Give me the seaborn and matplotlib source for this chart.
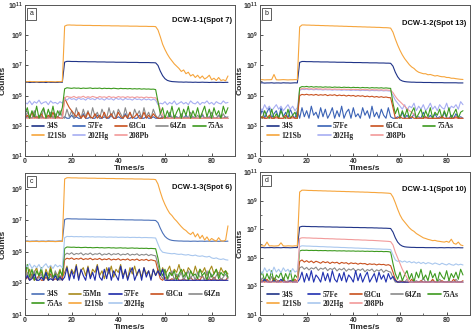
import numpy as np
import pandas as pd
import matplotlib
matplotlib.use("Agg")
import matplotlib.pyplot as plt
from matplotlib.lines import Line2D
import seaborn as sns

# time axis (s), one reading per second
times = list(range(88))

# ---------------- Panel a : DCW-1-1 (Spot 7)  values are log10(counts) ----------------
a_34S = ([5.88, 5.89, 5.87, 5.88, 5.88, 5.89, 5.87, 5.88, 5.88, 5.87,
          5.89, 5.88, 5.88, 5.87, 5.88, 5.89, 5.88] +
         [7.22, 7.27, 7.27, 7.26, 7.26, 7.26, 7.25, 7.25, 7.25, 7.25,
          7.24, 7.24, 7.24, 7.24, 7.23, 7.23, 7.23, 7.23, 7.22, 7.22,
          7.22, 7.22, 7.21, 7.21, 7.21, 7.21, 7.21, 7.20, 7.20, 7.20,
          7.20, 7.20, 7.19, 7.19, 7.19, 7.19, 7.19, 7.18, 7.18, 7.17] +
         [7.00, 6.62, 6.32, 6.12, 6.01, 5.96, 5.93, 5.92, 5.91, 5.90,
          5.90, 5.89, 5.90, 5.89, 5.89, 5.88, 5.89, 5.88, 5.88, 5.89,
          5.88, 5.88, 5.87, 5.88, 5.88, 5.87, 5.88, 5.88, 5.87, 5.88, 5.88])
a_121Sb = ([5.93, 5.92, 5.94, 5.92, 5.93, 5.91, 5.92, 5.93, 5.92, 5.94,
            5.92, 5.93, 5.92, 5.91, 5.93, 5.92, 5.93] +
           [9.60, 9.67, 9.68, 9.67, 9.67, 9.66, 9.66, 9.66, 9.65, 9.65,
            9.65, 9.65, 9.64, 9.64, 9.64, 9.64, 9.63, 9.63, 9.63, 9.63,
            9.62, 9.62, 9.62, 9.62, 9.61, 9.61, 9.61, 9.61, 9.60, 9.60,
            9.60, 9.60, 9.59, 9.59, 9.59, 9.59, 9.58, 9.58, 9.58, 9.57] +
           [9.35, 8.90, 8.40, 8.05, 7.75, 7.50, 7.30, 7.10, 6.95, 6.80,
            6.60, 6.70, 6.45, 6.55, 6.30, 6.40, 6.20, 6.35, 6.15, 6.30,
            6.10, 6.20, 6.35, 6.05, 6.15, 6.00, 6.20, 6.00, 6.05, 5.98, 6.30])
a_57Fe = ([3.5, 3.6, 3.5, 3.5, 3.7, 3.5, 3.5, 3.6, 3.5, 3.5,
           3.5, 3.7, 3.5, 3.5, 3.6, 3.5, 3.5] +
          [3.6, 3.5, 3.5, 3.7, 3.5, 3.6, 3.5, 3.5, 3.8, 3.5,
           3.5, 3.6, 3.5, 3.5, 3.7, 3.5, 3.5, 3.6, 3.5, 3.5,
           3.7, 3.5, 3.5, 3.6, 3.5, 3.5, 3.8, 3.5, 3.5, 3.6,
           3.5, 3.5, 3.7, 3.5, 3.5, 3.6, 3.5, 3.5, 3.6, 3.5] +
          [3.5, 3.5, 3.6, 3.5, 3.5, 3.7, 3.5, 3.5, 3.6, 3.5,
           3.5, 3.5, 3.7, 3.5, 3.5, 3.6, 3.5, 3.5, 3.5, 3.7,
           3.5, 3.5, 3.6, 3.5, 3.5, 3.5, 3.7, 3.5, 3.5, 3.6, 3.5])
a_63Cu = ([3.5, 3.7, 3.5, 3.9, 3.5, 3.6, 3.5, 3.8, 3.5, 3.5,
           3.7, 3.5, 3.9, 3.5, 3.6, 3.5, 3.5] +
          [4.85, 4.50, 4.20, 4.00, 3.8, 3.6, 3.9, 3.5, 3.7, 3.5,
           3.9, 3.6, 3.5, 3.8, 3.5, 3.7, 3.5, 3.9, 3.5, 3.6,
           3.8, 3.5, 3.5, 3.9, 3.6, 3.5, 3.7, 3.5, 3.9, 3.5,
           3.6, 3.8, 3.5, 3.5, 3.9, 3.5, 3.7, 3.5, 3.8, 3.6] +
          [3.5, 3.5, 3.5, 3.6, 3.5, 3.5, 3.5, 3.5, 3.5, 3.5,
           3.5, 3.5, 3.5, 3.5, 3.5, 3.5, 3.5, 3.5, 3.5, 3.5,
           3.5, 3.5, 3.5, 3.5, 3.5, 3.5, 3.5, 3.5, 3.5, 3.5, 3.5])
a_64Zn = ([3.5, 3.9, 3.6, 3.5, 4.0, 3.5, 3.7, 3.5, 4.1, 3.6,
           3.5, 3.9, 3.5, 3.8, 3.5, 4.0, 3.6] +
          [3.5, 4.1, 3.6, 4.0, 3.5, 4.2, 3.7, 3.5, 4.1, 3.6,
           4.0, 3.5, 4.2, 3.6, 3.9, 3.5, 4.1, 3.7, 3.5, 4.2,
           3.6, 4.0, 3.5, 4.1, 3.8, 3.5, 4.2, 3.6, 3.9, 3.5,
           4.1, 3.7, 4.0, 3.5, 4.2, 3.6, 3.9, 3.5, 4.1, 3.7] +
          [3.5, 3.8, 3.5, 3.6, 3.5, 3.9, 3.5, 3.7, 3.5, 3.5,
           3.8, 3.5, 3.6, 3.5, 3.9, 3.5, 3.5, 3.7, 3.5, 3.8,
           3.5, 3.6, 3.5, 3.9, 3.5, 3.5, 3.7, 3.5, 3.8, 3.5, 3.6])
a_75As = ([3.8, 4.2, 3.5, 4.0, 3.6, 4.3, 3.5, 3.9, 4.2, 3.5,
           4.1, 3.6, 4.3, 3.5, 4.0, 3.7, 4.2] +
          [5.45, 5.52, 5.50, 5.48, 5.51, 5.49, 5.50, 5.47, 5.50, 5.48,
           5.49, 5.51, 5.47, 5.49, 5.48, 5.50, 5.46, 5.49, 5.47, 5.48,
           5.46, 5.49, 5.47, 5.45, 5.48, 5.46, 5.47, 5.45, 5.47, 5.44,
           5.46, 5.44, 5.46, 5.43, 5.45, 5.43, 5.44, 5.42, 5.43, 5.40] +
          [4.6, 3.8, 4.2, 3.5, 4.0, 3.6, 4.3, 3.5, 3.9, 4.2,
           3.5, 4.1, 3.7, 4.3, 3.5, 4.0, 3.6, 4.2, 3.5, 3.9,
           4.3, 3.6, 4.1, 3.5, 4.2, 3.7, 4.0, 3.5, 4.3, 3.8, 4.2])
a_202Hg = ([4.55, 4.45, 4.65, 4.40, 4.60, 4.50, 4.70, 4.45, 4.55, 4.60,
            4.40, 4.65, 4.50, 4.55, 4.45, 4.60, 4.50] +
           [4.80, 4.70, 4.85, 4.75, 4.80, 4.70, 4.85, 4.75, 4.80, 4.70,
            4.85, 4.75, 4.80, 4.72, 4.85, 4.75, 4.80, 4.70, 4.82, 4.75,
            4.80, 4.70, 4.85, 4.75, 4.80, 4.70, 4.82, 4.75, 4.78, 4.70,
            4.82, 4.74, 4.78, 4.70, 4.80, 4.72, 4.78, 4.70, 4.76, 4.70] +
           [4.40, 4.50, 4.45, 4.60, 4.40, 4.55, 4.45, 4.65, 4.40, 4.50,
            4.60, 4.45, 4.55, 4.40, 4.65, 4.50, 4.45, 4.60, 4.40, 4.55,
            4.50, 4.65, 4.45, 4.55, 4.40, 4.60, 4.50, 4.45, 4.65, 4.50, 4.55])
a_208Pb = ([3.5, 3.5, 3.5, 3.5, 3.5, 3.5, 3.5, 3.5, 3.5, 3.5,
            3.5, 3.5, 3.5, 3.5, 3.5, 3.5, 3.5] +
           [4.85, 4.95, 4.90, 4.88, 4.95, 4.86, 4.92, 4.89, 4.96, 4.87,
            4.93, 4.88, 4.95, 4.90, 4.86, 4.94, 4.89, 4.92, 4.87, 4.95,
            4.88, 4.91, 4.86, 4.94, 4.89, 4.92, 4.87, 4.93, 4.88, 4.91,
            4.86, 4.92, 4.88, 4.90, 4.85, 4.91, 4.87, 4.89, 4.85, 4.86] +
           [4.60, 4.10, 3.70, 3.5, 3.5, 3.5, 3.5, 3.5, 3.5, 3.5,
            3.5, 3.5, 3.5, 3.5, 3.5, 3.5, 3.5, 3.5, 3.5, 3.5,
            3.5, 3.5, 3.5, 3.5, 3.5, 3.5, 3.5, 3.5, 3.5, 3.5, 3.5])

# ---------------- Panel b : DCW-1-2 (Spot 13) ----------------
b_34S = ([5.84, 5.85, 5.83, 5.84, 5.84, 5.85, 5.83, 5.84, 5.84, 5.83,
          5.85, 5.84, 5.84, 5.83, 5.84, 5.85, 5.84] +
         [7.20, 7.26, 7.26, 7.25, 7.25, 7.25, 7.24, 7.24, 7.24, 7.23,
          7.23, 7.23, 7.23, 7.22, 7.22, 7.22, 7.21, 7.21, 7.21, 7.21,
          7.20, 7.20, 7.20, 7.19, 7.19, 7.19, 7.19, 7.18, 7.18, 7.18,
          7.17, 7.17, 7.17, 7.17, 7.16, 7.16, 7.16, 7.15, 7.15, 7.14] +
         [6.95, 6.55, 6.25, 6.05, 5.97, 5.93, 5.91, 5.90, 5.89, 5.89,
          5.88, 5.88, 5.88, 5.87, 5.87, 5.87, 5.87, 5.86, 5.86, 5.86,
          5.86, 5.86, 5.85, 5.85, 5.85, 5.85, 5.85, 5.85, 5.84, 5.84, 5.84])
b_121Sb = ([6.05, 6.06, 6.04, 6.05, 6.05, 6.06, 6.40, 6.05, 6.04, 6.05,
            6.06, 6.05, 6.04, 6.05, 6.05, 6.06, 6.05] +
           [9.55, 9.68, 9.68, 9.67, 9.67, 9.66, 9.66, 9.65, 9.65, 9.64,
            9.64, 9.63, 9.63, 9.62, 9.62, 9.61, 9.61, 9.60, 9.60, 9.59,
            9.59, 9.58, 9.58, 9.57, 9.57, 9.56, 9.56, 9.55, 9.55, 9.54,
            9.54, 9.53, 9.53, 9.52, 9.52, 9.51, 9.50, 9.50, 9.49, 9.47] +
           [9.20, 8.75, 8.35, 8.00, 7.70, 7.45, 7.25, 7.05, 6.90, 6.80,
            6.65, 6.55, 6.50, 6.45, 6.45, 6.38, 6.40, 6.35, 6.30, 6.33,
            6.28, 6.25, 6.25, 6.20, 6.20, 6.15, 6.15, 6.12, 6.10, 6.08, 6.07])
b_57Fe = ([3.6, 4.1, 3.5, 3.9, 4.2, 3.5, 3.8, 4.0, 3.5, 4.2,
           3.6, 3.9, 3.5, 4.1, 3.7, 3.5, 4.0] +
          [3.5, 4.2, 3.6, 4.0, 3.5, 4.3, 3.7, 3.9, 3.5, 4.2,
           3.6, 4.1, 3.5, 3.8, 4.2, 3.5, 4.0, 3.6, 4.3, 3.5,
           3.9, 4.1, 3.5, 4.2, 3.6, 3.8, 3.5, 4.2, 3.7, 4.0,
           3.5, 4.3, 3.6, 3.9, 3.5, 4.1, 3.7, 3.5, 4.2, 3.6] +
          [3.5, 3.5, 3.6, 3.5, 3.9, 3.5, 3.7, 3.5, 3.5, 3.8,
           3.5, 3.6, 3.5, 3.9, 3.5, 3.5, 3.7, 3.5, 3.8, 3.5,
           3.6, 3.5, 3.9, 3.5, 3.5, 3.7, 3.5, 3.8, 3.5, 3.6, 3.5])
b_65Cu = ([3.5, 3.6, 3.5, 3.5, 3.7, 3.5, 3.5, 3.6, 3.5, 3.5,
           3.5, 3.7, 3.5, 3.5, 3.6, 3.5, 3.5] +
          [5.00, 5.08, 5.05, 5.09, 5.04, 5.07, 5.03, 5.08, 5.02, 5.06,
           5.03, 5.07, 5.00, 5.05, 5.02, 5.06, 4.99, 5.04, 5.00, 5.03,
           4.97, 5.02, 4.98, 5.01, 4.95, 5.00, 4.96, 4.99, 4.93, 4.97,
           4.92, 4.96, 4.90, 4.94, 4.89, 4.93, 4.88, 4.91, 4.87, 4.86] +
          [4.2, 3.5, 3.5, 3.6, 3.5, 3.5, 3.5, 3.5, 3.6, 3.5,
           3.5, 3.5, 3.5, 3.5, 3.6, 3.5, 3.5, 3.5, 3.5, 3.5,
           3.5, 3.6, 3.5, 3.5, 3.5, 3.5, 3.5, 3.6, 3.5, 3.5, 3.5])
b_75As = ([3.7, 3.5, 4.0, 3.6, 3.5, 4.1, 3.5, 3.8, 3.5, 4.0,
           3.6, 3.5, 4.1, 3.5, 3.7, 3.9, 3.5] +
          [5.52, 5.60, 5.58, 5.61, 5.57, 5.60, 5.56, 5.59, 5.57, 5.58,
           5.55, 5.58, 5.56, 5.57, 5.54, 5.57, 5.55, 5.56, 5.53, 5.56,
           5.54, 5.55, 5.52, 5.55, 5.53, 5.54, 5.51, 5.54, 5.52, 5.53,
           5.50, 5.53, 5.51, 5.52, 5.50, 5.52, 5.49, 5.51, 5.49, 5.48] +
          [4.5, 3.8, 4.2, 3.5, 4.0, 3.6, 4.1, 3.5, 3.9, 4.2,
           3.5, 3.8, 4.1, 3.5, 4.0, 3.6, 4.2, 3.5, 3.9, 3.7,
           4.1, 3.5, 4.0, 3.6, 4.2, 3.5, 3.8, 4.1, 3.5, 3.9, 4.0])
b_202Hg = ([4.2, 4.0, 4.4, 4.1, 4.3, 4.0, 4.2, 4.4, 4.1, 4.3,
            4.0, 4.2, 4.4, 4.1, 4.3, 4.0, 4.2] +
           [5.35, 5.42, 5.40, 5.43, 5.39, 5.42, 5.38, 5.41, 5.39, 5.40,
            5.37, 5.40, 5.38, 5.39, 5.36, 5.39, 5.37, 5.38, 5.35, 5.38,
            5.36, 5.37, 5.34, 5.37, 5.35, 5.36, 5.33, 5.36, 5.34, 5.35,
            5.32, 5.35, 5.33, 5.34, 5.32, 5.34, 5.31, 5.33, 5.31, 5.30] +
           [5.0, 4.7, 4.5, 4.3, 4.1, 4.4, 4.0, 4.3, 4.2, 4.5,
            4.0, 4.3, 4.1, 4.4, 4.0, 4.2, 4.5, 4.1, 4.3, 4.0,
            4.4, 4.2, 4.1, 4.5, 4.0, 4.3, 4.2, 4.4, 4.1, 4.6, 4.4])
b_208Pb = ([3.5, 3.5, 3.5, 3.5, 3.5, 3.5, 3.5, 3.5, 3.5, 3.5,
            3.5, 3.5, 3.5, 3.5, 3.5, 3.5, 3.5] +
           [5.40, 5.47, 5.45, 5.48, 5.44, 5.46, 5.43, 5.47, 5.44, 5.45,
            5.42, 5.45, 5.43, 5.44, 5.41, 5.44, 5.42, 5.43, 5.40, 5.43,
            5.41, 5.42, 5.39, 5.42, 5.40, 5.41, 5.38, 5.41, 5.39, 5.40,
            5.37, 5.40, 5.38, 5.39, 5.37, 5.39, 5.36, 5.38, 5.36, 5.35] +
           [5.20, 4.95, 4.75, 4.60, 4.45, 4.30, 4.15, 4.00, 3.90, 3.75,
            3.60, 3.5, 3.5, 3.5, 3.5, 3.5, 3.5, 3.5, 3.5, 3.5,
            3.5, 3.5, 3.5, 3.5, 3.5, 3.5, 3.5, 3.5, 3.5, 3.5, 3.5])

# ---------------- Panel c : DCW-1-3 (Spot 6) ----------------
c_34S = ([5.68, 5.69, 5.67, 5.68, 5.68, 5.69, 5.67, 5.68, 5.68, 5.67,
          5.69, 5.68, 5.68, 5.67, 5.68, 5.69, 5.68] +
         [7.05, 7.10, 7.10, 7.09, 7.09, 7.09, 7.08, 7.08, 7.08, 7.08,
          7.07, 7.07, 7.07, 7.07, 7.06, 7.06, 7.06, 7.06, 7.05, 7.05,
          7.05, 7.05, 7.04, 7.04, 7.04, 7.04, 7.03, 7.03, 7.03, 7.03,
          7.02, 7.02, 7.02, 7.02, 7.01, 7.01, 7.01, 7.00, 7.00, 6.99] +
         [6.85, 6.50, 6.20, 5.98, 5.85, 5.77, 5.73, 5.71, 5.70, 5.69,
          5.69, 5.68, 5.68, 5.68, 5.67, 5.68, 5.68, 5.67, 5.68, 5.68,
          5.67, 5.68, 5.68, 5.67, 5.68, 5.68, 5.67, 5.68, 5.68, 5.67, 5.68])
c_121Sb = ([5.66, 5.67, 5.65, 5.66, 5.66, 5.67, 5.65, 5.66, 5.66, 5.65,
            5.67, 5.66, 5.66, 5.65, 5.66, 5.67, 5.66] +
           [9.62, 9.70, 9.70, 9.69, 9.69, 9.69, 9.68, 9.68, 9.68, 9.68,
            9.67, 9.67, 9.67, 9.67, 9.66, 9.66, 9.66, 9.66, 9.65, 9.65,
            9.65, 9.65, 9.64, 9.64, 9.64, 9.64, 9.63, 9.63, 9.63, 9.63,
            9.62, 9.62, 9.62, 9.62, 9.61, 9.61, 9.61, 9.60, 9.60, 9.58] +
           [9.30, 8.80, 8.35, 8.00, 7.70, 7.45, 7.30, 7.10, 6.95, 6.77,
            6.60, 6.45, 6.35, 6.20, 6.10, 6.25, 5.95, 6.15, 5.85, 6.05,
            5.75, 5.95, 5.70, 5.85, 5.75, 5.68, 5.90, 5.70, 5.68, 5.75, 6.65])
c_55Mn = ([4.4, 3.5, 3.9, 3.3, 3.7, 4.0, 3.4, 3.8, 3.2, 3.9,
           3.5, 4.1, 3.3, 3.7, 3.5, 3.9, 3.4] +
          [3.7, 4.1, 3.4, 3.9, 3.6, 4.2, 3.3, 3.8, 4.0, 3.5,
           4.1, 3.4, 3.9, 3.7, 4.2, 3.5, 3.8, 3.3, 4.0, 3.6,
           4.1, 3.4, 3.9, 3.7, 4.2, 3.5, 3.8, 3.3, 4.0, 3.6,
           4.1, 3.5, 3.9, 3.4, 4.0, 3.6, 3.8, 3.3, 3.9, 3.5] +
          [3.9, 3.5, 4.0, 3.6, 3.8, 4.1, 3.5, 3.9, 3.7, 4.2,
           3.6, 3.9, 3.5, 4.0, 3.8, 3.5, 4.1, 3.6, 3.9, 3.7,
           4.0, 3.5, 3.8, 4.1, 3.6, 3.9, 3.5, 4.0, 3.7, 3.8, 3.6])
c_57Fe = ([3.2, 3.5, 3.2, 3.3, 3.6, 3.2, 3.2, 3.4, 3.2, 3.7,
           3.2, 3.3, 3.2, 3.5, 3.2, 3.4, 3.2] +
          [3.4, 4.0, 3.2, 3.8, 3.3, 4.1, 3.2, 3.9, 3.5, 3.2,
           4.0, 3.3, 3.7, 3.2, 4.1, 3.4, 3.2, 3.9, 3.3, 4.0,
           3.2, 3.8, 3.5, 3.2, 4.1, 3.3, 3.9, 3.2, 3.7, 4.0,
           3.2, 3.6, 3.9, 3.2, 4.0, 3.4, 3.8, 3.2, 3.9, 3.5] +
          [3.8, 3.5, 3.9, 3.2, 3.2, 3.2, 3.2, 3.2, 3.2, 3.2,
           3.2, 3.2, 3.2, 3.2, 3.2, 3.2, 3.2, 3.2, 3.2, 3.2,
           3.2, 3.2, 3.2, 3.2, 3.2, 3.2, 3.2, 3.2, 3.2, 3.2, 3.2])
c_63Cu = ([3.2, 3.4, 3.2, 3.6, 3.2, 3.3, 3.5, 3.2, 3.2, 3.4,
           3.2, 3.6, 3.2, 3.3, 3.2, 3.5, 3.2] +
          [4.50, 4.60, 4.55, 4.62, 4.52, 4.58, 4.54, 4.61, 4.51, 4.57,
           4.53, 4.60, 4.50, 4.56, 4.52, 4.59, 4.49, 4.55, 4.51, 4.58,
           4.48, 4.54, 4.50, 4.57, 4.47, 4.53, 4.49, 4.56, 4.46, 4.52,
           4.48, 4.55, 4.45, 4.51, 4.47, 4.53, 4.44, 4.50, 4.46, 4.42] +
          [3.8, 3.3, 3.2, 3.4, 3.2, 3.2, 3.3, 3.2, 3.5, 3.2,
           3.2, 3.3, 3.2, 3.2, 3.4, 3.2, 3.2, 3.3, 3.2, 3.5,
           3.2, 3.2, 3.3, 3.2, 3.4, 3.2, 3.2, 3.3, 3.2, 3.2, 3.4])
c_64Zn = ([3.3, 3.7, 3.2, 3.5, 3.8, 3.2, 3.4, 3.6, 3.2, 3.7,
           3.3, 3.5, 3.2, 3.8, 3.4, 3.2, 3.6] +
          [4.80, 4.92, 4.85, 4.95, 4.82, 4.90, 4.86, 4.94, 4.80, 4.89,
           4.84, 4.93, 4.81, 4.88, 4.85, 4.92, 4.79, 4.87, 4.83, 4.91,
           4.80, 4.88, 4.84, 4.90, 4.79, 4.86, 4.82, 4.90, 4.78, 4.85,
           4.81, 4.88, 4.77, 4.84, 4.80, 4.86, 4.76, 4.83, 4.78, 4.75] +
          [4.2, 3.6, 3.3, 3.7, 3.2, 3.5, 3.8, 3.2, 3.6, 3.4,
           3.7, 3.2, 3.5, 3.8, 3.3, 3.6, 3.2, 3.7, 3.4, 3.5,
           3.2, 3.8, 3.3, 3.6, 3.2, 3.5, 3.7, 3.2, 3.4, 3.6, 3.3])
c_75As = ([3.6, 4.2, 3.4, 3.9, 3.2, 3.8, 3.5, 4.0, 3.3, 3.7,
           3.2, 3.9, 3.4, 3.6, 3.2, 3.8, 3.5] +
          [5.22, 5.31, 5.30, 5.29, 5.30, 5.28, 5.29, 5.27, 5.28, 5.29,
           5.27, 5.28, 5.26, 5.27, 5.28, 5.26, 5.27, 5.25, 5.26, 5.27,
           5.25, 5.26, 5.24, 5.25, 5.26, 5.24, 5.25, 5.23, 5.24, 5.25,
           5.23, 5.24, 5.22, 5.23, 5.22, 5.23, 5.21, 5.22, 5.21, 5.20] +
          [4.60, 3.8, 3.5, 3.9, 3.3, 3.7, 3.5, 3.8, 3.2, 3.6,
           3.9, 3.4, 3.7, 3.2, 3.8, 3.5, 3.6, 3.3, 3.9, 3.5,
           3.7, 3.2, 3.8, 3.4, 3.6, 3.9, 3.3, 3.7, 3.5, 3.8, 3.4])
c_202Hg = ([4.20, 4.05, 4.25, 3.95, 4.15, 4.00, 4.20, 3.90, 4.10, 4.25,
            4.00, 4.15, 3.95, 4.20, 4.05, 4.15, 4.00] +
           [5.90, 5.98, 5.97, 5.98, 5.96, 5.97, 5.96, 5.97, 5.95, 5.96,
            5.96, 5.95, 5.96, 5.94, 5.95, 5.95, 5.94, 5.95, 5.93, 5.94,
            5.94, 5.93, 5.94, 5.92, 5.93, 5.93, 5.92, 5.93, 5.91, 5.92,
            5.92, 5.91, 5.92, 5.90, 5.91, 5.91, 5.90, 5.90, 5.89, 5.88] +
           [5.50, 5.15, 4.98, 4.95, 4.92, 4.90, 4.88, 4.90, 4.86, 4.84,
            4.86, 4.82, 4.80, 4.83, 4.78, 4.76, 4.80, 4.74, 4.72, 4.75,
            4.70, 4.68, 4.72, 4.62, 4.58, 4.62, 4.55, 4.52, 4.56, 4.50, 4.48])

# ---------------- Panel d : DCW-1-1 (Spot 10) ----------------
d_34S = ([5.71, 5.72, 5.70, 5.71, 5.71, 5.72, 5.70, 5.71, 5.71, 5.70,
          5.72, 5.71, 5.71, 5.70, 5.71, 5.72, 5.71] +
         [7.15, 7.20, 7.20, 7.19, 7.19, 7.18, 7.18, 7.18, 7.17, 7.17,
          7.17, 7.16, 7.16, 7.16, 7.15, 7.15, 7.15, 7.14, 7.14, 7.14,
          7.13, 7.13, 7.13, 7.12, 7.12, 7.12, 7.11, 7.11, 7.11, 7.10,
          7.10, 7.10, 7.09, 7.09, 7.08, 7.08, 7.07, 7.07, 7.06, 7.05] +
         [6.80, 6.40, 6.10, 5.92, 5.82, 5.77, 5.75, 5.74, 5.73, 5.73,
          5.72, 5.72, 5.72, 5.72, 5.71, 5.71, 5.71, 5.71, 5.71, 5.70,
          5.71, 5.71, 5.70, 5.71, 5.71, 5.70, 5.71, 5.70, 5.71, 5.70, 5.70])
d_121Sb = ([5.83, 5.84, 5.82, 6.10, 5.83, 5.84, 5.82, 5.83, 5.85, 6.05,
            5.83, 5.82, 5.84, 5.83, 5.82, 5.84, 5.83] +
           [9.60, 9.73, 9.73, 9.72, 9.71, 9.71, 9.70, 9.70, 9.69, 9.69,
            9.68, 9.68, 9.67, 9.67, 9.66, 9.66, 9.65, 9.65, 9.64, 9.64,
            9.63, 9.63, 9.62, 9.62, 9.61, 9.61, 9.60, 9.60, 9.59, 9.59,
            9.58, 9.57, 9.57, 9.56, 9.55, 9.55, 9.54, 9.53, 9.52, 9.50] +
           [9.25, 8.85, 8.40, 8.00, 7.70, 7.50, 7.30, 7.10, 6.95, 6.85,
            6.70, 6.60, 6.50, 6.40, 6.35, 6.29, 6.25, 6.20, 6.22, 6.17,
            6.15, 6.12, 6.10, 6.15, 6.08, 6.30, 6.02, 5.95, 6.10, 5.90, 5.85])
d_57Fe = ([3.3, 3.3, 3.5, 3.3, 3.3, 3.3, 3.4, 3.3, 3.3, 3.5,
           3.3, 3.3, 3.3, 3.4, 3.3, 3.3, 3.3] +
          [3.5, 4.0, 3.3, 3.9, 3.4, 4.1, 3.3, 3.8, 3.6, 3.3,
           4.0, 3.4, 3.9, 3.3, 4.1, 3.5, 3.3, 3.9, 3.4, 4.0,
           3.3, 3.8, 3.6, 3.3, 4.1, 3.4, 3.9, 3.3, 3.7, 4.0,
           3.3, 3.6, 3.9, 3.3, 4.0, 3.5, 3.8, 3.3, 3.9, 3.5] +
          [3.7, 3.4, 3.3, 3.3, 3.3, 3.3, 3.3, 3.3, 3.3, 3.3,
           3.3, 3.3, 3.3, 3.3, 3.3, 3.3, 3.3, 3.3, 3.3, 3.3,
           3.3, 3.3, 3.3, 3.3, 3.3, 3.3, 3.3, 3.3, 3.3, 3.3, 3.3])
d_63Cu = ([3.3, 3.4, 3.3, 3.5, 3.3, 3.3, 3.6, 3.3, 3.4, 3.3,
           3.5, 3.3, 3.3, 3.4, 3.3, 3.5, 3.3] +
          [4.75, 4.85, 4.70, 4.80, 4.68, 4.78, 4.65, 4.76, 4.70, 4.62,
           4.74, 4.66, 4.72, 4.60, 4.70, 4.64, 4.69, 4.58, 4.68, 4.62,
           4.66, 4.56, 4.65, 4.60, 4.63, 4.55, 4.62, 4.58, 4.60, 4.52,
           4.58, 4.54, 4.57, 4.50, 4.56, 4.52, 4.54, 4.48, 4.52, 4.45] +
          [4.0, 3.5, 3.3, 3.3, 3.4, 3.3, 3.3, 3.3, 3.5, 3.3,
           3.3, 3.3, 3.4, 3.3, 3.3, 3.3, 3.3, 3.5, 3.3, 3.3,
           3.3, 3.4, 3.3, 3.3, 3.3, 3.3, 3.5, 3.3, 3.3, 3.3, 3.4])
d_64Zn = ([3.3, 3.6, 3.3, 3.4, 3.3, 3.7, 3.3, 3.5, 3.3, 3.3,
           3.6, 3.3, 3.4, 3.3, 3.5, 3.3, 3.4] +
          [4.30, 4.38, 4.20, 4.33, 4.15, 4.30, 4.22, 4.35, 4.12, 4.28,
           4.20, 4.32, 4.10, 4.26, 4.18, 4.30, 4.08, 4.24, 4.15, 4.28,
           4.06, 4.22, 4.14, 4.26, 4.05, 4.20, 4.12, 4.24, 4.02, 4.18,
           4.10, 4.22, 4.00, 4.16, 4.08, 4.20, 3.98, 4.14, 4.05, 4.00] +
          [3.6, 3.3, 3.3, 3.4, 3.3, 3.3, 3.5, 3.3, 3.3, 3.3,
           3.4, 3.3, 3.3, 3.6, 3.3, 3.3, 3.3, 3.4, 3.3, 3.3,
           3.5, 3.3, 3.3, 3.3, 3.4, 3.3, 3.3, 3.5, 3.3, 3.3, 3.3])
d_75As = ([3.7, 4.0, 3.4, 3.9, 3.5, 4.1, 3.3, 3.8, 3.6, 4.0,
           3.4, 3.9, 3.5, 4.1, 3.3, 3.8, 3.6] +
          [5.48, 5.53, 5.52, 5.53, 5.51, 5.52, 5.51, 5.52, 5.50, 5.51,
           5.50, 5.51, 5.49, 5.50, 5.49, 5.50, 5.48, 5.49, 5.48, 5.49,
           5.47, 5.48, 5.47, 5.48, 5.46, 5.47, 5.46, 5.47, 5.45, 5.46,
           5.45, 5.46, 5.44, 5.45, 5.44, 5.45, 5.43, 5.44, 5.43, 5.40] +
          [4.6, 3.9, 3.5, 4.0, 3.4, 3.8, 4.1, 3.5, 3.9, 3.3,
           4.0, 3.6, 4.2, 3.5, 3.8, 3.4, 4.1, 3.6, 3.9, 3.3,
           4.0, 3.7, 3.5, 4.1, 3.4, 3.9, 3.6, 4.0, 3.5, 4.2, 3.8])
d_202Hg = ([4.10, 3.90, 4.30, 4.00, 4.20, 3.90, 4.35, 4.00, 4.20, 3.95,
            4.30, 4.05, 4.20, 3.90, 4.25, 4.00, 4.10] +
           [5.78, 5.84, 5.83, 5.82, 5.82, 5.81, 5.80, 5.80, 5.79, 5.78,
            5.78, 5.77, 5.76, 5.76, 5.75, 5.74, 5.74, 5.73, 5.72, 5.72,
            5.71, 5.70, 5.70, 5.69, 5.68, 5.68, 5.67, 5.66, 5.66, 5.65,
            5.64, 5.64, 5.63, 5.62, 5.62, 5.61, 5.60, 5.60, 5.59, 5.58] +
           [5.20, 4.85, 4.75, 4.80, 4.70, 4.78, 4.68, 4.75, 4.65, 4.72,
            4.62, 4.70, 4.60, 4.68, 4.58, 4.66, 4.62, 4.55, 4.64, 4.58,
            4.52, 4.62, 4.55, 4.50, 4.60, 4.52, 4.48, 4.58, 4.50, 4.55, 4.50])
d_208Pb = ([3.3, 3.3, 3.3, 3.3, 3.3, 3.3, 3.3, 3.3, 3.3, 3.3,
            3.3, 3.3, 3.3, 3.3, 3.3, 3.3, 3.3] +
           [6.35, 6.40, 6.40, 6.39, 6.39, 6.38, 6.37, 6.37, 6.36, 6.36,
            6.35, 6.34, 6.34, 6.33, 6.33, 6.32, 6.31, 6.31, 6.30, 6.30,
            6.29, 6.28, 6.28, 6.27, 6.26, 6.26, 6.25, 6.24, 6.24, 6.23,
            6.22, 6.22, 6.21, 6.20, 6.19, 6.18, 6.17, 6.16, 6.15, 6.13] +
           [5.90, 5.40, 5.00, 4.60, 4.20, 3.90, 3.60, 3.30, 3.3, 3.3,
            3.3, 3.3, 3.3, 3.3, 3.3, 3.3, 3.3, 3.3, 3.3, 3.3,
            3.3, 3.3, 3.3, 3.3, 3.3, 3.3, 3.3, 3.3, 3.3, 3.3, 3.3])

# ---------------- text ----------------
titles = ["DCW-1-1(Spot 7)", "DCW-1-2(Spot 13)", "DCW-1-3(Spot 6)", "DCW-1-1(Spot 10)"]
letters = ["a", "b", "c", "d"]
x_ticks = [0, 20, 40, 60, 80]

panels = [
    dict(series={"34S": a_34S, "57Fe": a_57Fe, "63Cu": a_63Cu, "64Zn": a_64Zn,
                 "75As": a_75As, "121Sb": a_121Sb, "202Hg": a_202Hg, "208Pb": a_208Pb},
         legend=["34S", "57Fe", "63Cu", "64Zn", "75As", "121Sb", "202Hg", "208Pb"],
         draw=["57Fe", "64Zn", "63Cu", "202Hg", "208Pb", "75As", "34S", "121Sb"],
         ncol=5, rect=[0.0527, 0.5343, 0.443, 0.4507], top=11,
         yt=[1, 3, 5, 7, 9, 11], ty=0.895, legy=0.165, colspace=0.8, ylx=-0.086),
    dict(series={"34S": b_34S, "57Fe": b_57Fe, "65Cu": b_65Cu, "75As": b_75As,
                 "121Sb": b_121Sb, "202Hg": b_202Hg, "208Pb": b_208Pb},
         legend=["34S", "57Fe", "65Cu", "75As", "121Sb", "202Hg", "208Pb"],
         draw=["57Fe", "202Hg", "208Pb", "75As", "65Cu", "34S", "121Sb"],
         ncol=4, rect=[0.5485, 0.5343, 0.443, 0.4507], top=11,
         yt=[1, 3, 5, 7, 9, 11], ty=0.88, legy=0.165, colspace=2.2, ylx=-0.076),
    dict(series={"34S": c_34S, "55Mn": c_55Mn, "57Fe": c_57Fe, "63Cu": c_63Cu,
                 "64Zn": c_64Zn, "75As": c_75As, "121Sb": c_121Sb, "202Hg": c_202Hg},
         legend=["34S", "55Mn", "57Fe", "63Cu", "64Zn", "75As", "121Sb", "202Hg"],
         draw=["55Mn", "63Cu", "64Zn", "75As", "57Fe", "202Hg", "34S", "121Sb"],
         ncol=5, rect=[0.0527, 0.0597, 0.443, 0.4239], top=10,
         yt=[1, 3, 5, 7, 9], ty=0.90, legy=0.112, colspace=0.8, ylx=-0.086),
    dict(series={"34S": d_34S, "57Fe": d_57Fe, "63Cu": d_63Cu, "64Zn": d_64Zn,
                 "75As": d_75As, "121Sb": d_121Sb, "202Hg": d_202Hg, "208Pb": d_208Pb},
         legend=["34S", "57Fe", "63Cu", "64Zn", "75As", "121Sb", "202Hg", "208Pb"],
         draw=["64Zn", "63Cu", "75As", "202Hg", "57Fe", "208Pb", "34S", "121Sb"],
         ncol=5, rect=[0.5485, 0.0597, 0.443, 0.4268], top=11,
         yt=[1, 3, 5, 7, 9, 11], ty=0.88, legy=0.11, colspace=0.8, ylx=-0.076),
]

base_colors = {"34S": "#1f3388", "57Fe": "#3a62b5", "63Cu": "#c8501e", "65Cu": "#c8501e",
               "64Zn": "#8a8a8a", "75As": "#3d9a1f", "121Sb": "#f6a53c",
               "202Hg": "#a7aef2", "208Pb": "#f29a9a", "55Mn": "#a88a1c"}
panel_colors = [dict(base_colors),
                dict(base_colors),
                dict(base_colors, **{"34S": "#4a70b8", "57Fe": "#1e2aa8", "202Hg": "#a9c7ee"}),
                dict(base_colors, **{"57Fe": "#2030b0", "202Hg": "#a9c7ee"})]


def row_major(items, ncol):
    """Reorder legend entries so matplotlib's column-wise fill reads row by row."""
    nrows = -(-len(items) // ncol)
    rows = [items[r * ncol:(r + 1) * ncol] for r in range(nrows)]
    out = []
    for c in range(ncol):
        for r in range(nrows):
            if c < len(rows[r]):
                out.append(rows[r][c])
    return out


sns.set_theme(style="ticks")
plt.rcParams["font.family"] = ["Liberation Sans", "DejaVu Sans"]
plt.rcParams["mathtext.fontset"] = "custom"
plt.rcParams["mathtext.bf"] = "Liberation Sans:bold"
plt.rcParams["mathtext.rm"] = "Liberation Sans"

fig = plt.figure(figsize=(4.74, 3.35), dpi=100)
fig.patch.set_facecolor("white")

for i, p in enumerate(panels):
    ax = fig.add_axes(p["rect"])
    cols = panel_colors[i]
    frames = []
    for name in p["draw"]:
        vals = p["series"][name]
        if len(vals) != len(times):
            raise ValueError(f"panel {letters[i]} {name} has {len(vals)} values")
        frames.append(pd.DataFrame({"time": times,
                                    "counts": np.power(10.0, np.array(vals)),
                                    "element": name}))
    df = pd.concat(frames, ignore_index=True)
    sns.lineplot(data=df, x="time", y="counts", hue="element", hue_order=p["draw"],
                 palette=cols, estimator=None, sort=False, linewidth=0.8,
                 legend=False, ax=ax)
    ax.set_yscale("log")
    ax.set_xlim(0, 90)
    ax.set_ylim(10 ** 1, 10 ** p["top"])
    ax.set_yticks([10.0 ** k for k in p["yt"]])
    ax.set_yticklabels([r"$\mathbf{10^{%d}}$" % k for k in p["yt"]])
    ax.set_yticks([10.0 ** k for k in range(2, p["top"], 2)], minor=True)
    ax.yaxis.set_minor_formatter(matplotlib.ticker.NullFormatter())
    ax.set_xticks(x_ticks)
    ax.set_xticklabels([str(v) for v in x_ticks])
    ax.set_xticks([10, 30, 50, 70, 90], minor=True)
    ax.tick_params(axis="both", which="major", labelsize=5, length=2.5, width=0.6,
                   pad=1.2, colors="#333333", direction="in")
    ax.tick_params(axis="both", which="minor", length=1.5, width=0.5, colors="#333333",
                   direction="in")
    for lab in ax.get_xticklabels():
        lab.set_fontweight("bold")
    for s in ax.spines.values():
        s.set_visible(True)
        s.set_color("#555555")
        s.set_linewidth(0.7)
    ax.set_xlabel("Times/s", fontsize=6, fontweight="bold", labelpad=0.3)
    ax.set_ylabel("Counts", fontsize=6, fontweight="bold")
    ax.yaxis.set_label_coords(p["ylx"], 0.5)
    ax.text(0.985, p["ty"], titles[i], transform=ax.transAxes, ha="right", va="center",
            fontsize=5.5, fontweight="bold", color="#111111")
    ax.text(0.022, 0.965, letters[i], transform=ax.transAxes, ha="left", va="top",
            fontsize=5, color="#222222",
            bbox=dict(boxstyle="square,pad=0.35", fc="white", ec="#444444", lw=0.6))
    names = row_major(p["legend"], p["ncol"])
    handles = [Line2D([0], [0], color=cols[n], lw=1.2) for n in names]
    ax.legend(handles, names, ncol=p["ncol"], loc="center left",
              bbox_to_anchor=(0.03, p["legy"]), frameon=False,
              prop={"family": "Liberation Serif", "weight": "bold", "size": 5.5},
              handlelength=1.6, handletextpad=0.3, columnspacing=p["colspace"],
              labelspacing=0.2, borderpad=0.1, borderaxespad=0.0)

fig.savefig("out.png", dpi=100, facecolor="white")
